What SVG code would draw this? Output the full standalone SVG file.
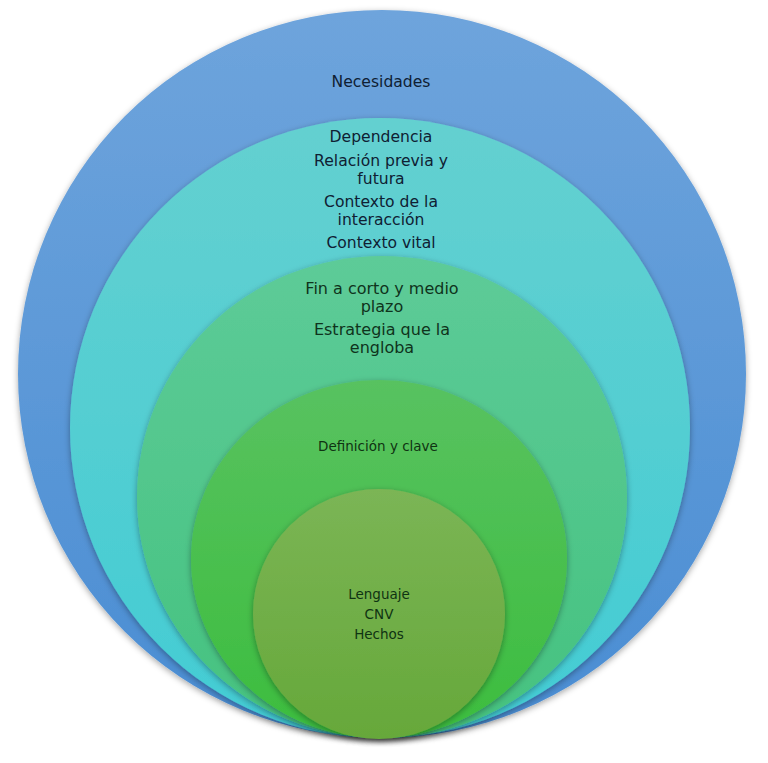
<svg xmlns="http://www.w3.org/2000/svg" width="768" height="763" viewBox="0 0 768 763">
<defs>
<linearGradient id="g1" x1="0" y1="0" x2="0" y2="1"><stop offset="0" stop-color="#6ea4dc"/><stop offset="1" stop-color="#4a8dd3"/></linearGradient>
<linearGradient id="g2" x1="0" y1="0" x2="0" y2="1"><stop offset="0" stop-color="#64d0d0"/><stop offset="1" stop-color="#42ccd4"/></linearGradient>
<linearGradient id="g3" x1="0" y1="0" x2="0" y2="1"><stop offset="0" stop-color="#5dcb98"/><stop offset="1" stop-color="#45c27f"/></linearGradient>
<linearGradient id="g4" x1="0" y1="0" x2="0" y2="1"><stop offset="0" stop-color="#58c260"/><stop offset="1" stop-color="#3cbd3e"/></linearGradient>
<linearGradient id="g5" x1="0" y1="0" x2="0" y2="1"><stop offset="0" stop-color="#7bb555"/><stop offset="1" stop-color="#66a83a"/></linearGradient>
<filter id="sh" x="-10%" y="-10%" width="120%" height="125%"><feDropShadow dx="0" dy="2" stdDeviation="3" flood-color="#000" flood-opacity="0.35"/></filter>
</defs>
<style>
text{font-family:"DejaVu Sans","Liberation Sans",sans-serif;text-anchor:middle}
.b{font-size:15.6px;fill:#0f2033}
.g{font-size:16px;fill:#0f331c}
.s{font-size:13.5px;fill:#0f3312}
</style>
<rect width="768" height="763" fill="#fff"/>
<g id="necesidades">
<ellipse cx="382" cy="374" rx="364" ry="364" fill="url(#g1)" filter="url(#sh)"/>
<text class="b" x="381" y="87">Necesidades</text>
</g>
<g id="dependencia">
<ellipse cx="380" cy="428" rx="310" ry="310" fill="url(#g2)" filter="url(#sh)"/>
<text class="b" x="381" y="142">Dependencia</text>
<text class="b" x="381" y="166">Relación previa y</text>
<text class="b" x="381" y="184">futura</text>
<text class="b" x="381" y="207">Contexto de la</text>
<text class="b" x="381" y="225">interacción</text>
<text class="b" x="381" y="248">Contexto vital</text>
</g>
<g id="fin">
<ellipse cx="382" cy="497" rx="245" ry="241" fill="url(#g3)" filter="url(#sh)"/>
<text class="g" x="382" y="294">Fin a corto y medio</text>
<text class="g" x="382" y="312">plazo</text>
<text class="g" x="382" y="335">Estrategia que la</text>
<text class="g" x="382" y="353">engloba</text>
</g>
<g id="definicion">
<ellipse cx="379" cy="559" rx="188" ry="179" fill="url(#g4)" filter="url(#sh)"/>
<text class="s" x="378" y="451">Definición y clave</text>
</g>
<g id="lenguaje">
<ellipse cx="379" cy="614" rx="126" ry="125" fill="url(#g5)" filter="url(#sh)"/>
<text class="s" x="379" y="599">Lenguaje</text>
<text class="s" x="379" y="619">CNV</text>
<text class="s" x="379" y="639">Hechos</text>
</g>
<g id="connectors"/>
</svg>
